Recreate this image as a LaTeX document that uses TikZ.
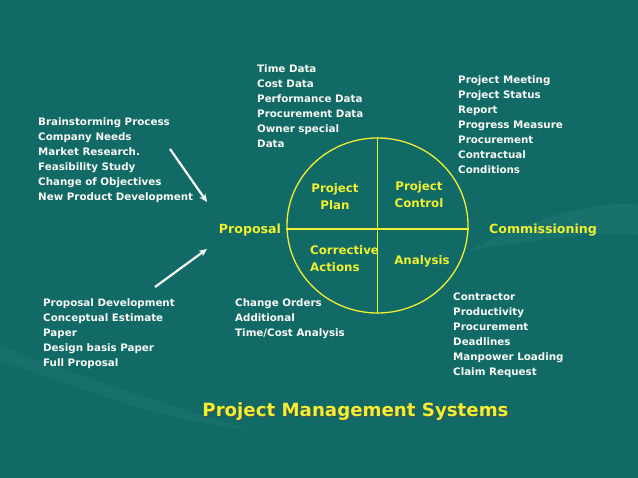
\documentclass[tikz,border=0pt]{standalone}
\usepackage{fontspec}
\setmainfont{DejaVu Sans}
\usetikzlibrary{arrows.meta,shapes.geometric}
\definecolor{bg}{RGB}{17,106,102}
\definecolor{bglight}{RGB}{40,128,124}
\definecolor{ylw}{RGB}{240,240,50}
\definecolor{wht}{RGB}{250,250,245}
\tikzset{
  list/.style={anchor=north west, inner sep=0pt, align=left, text=wht,
    font=\bfseries\fontsize{10.3}{15}\selectfont},
  qlabel/.style={inner sep=0pt, align=center, text=ylw,
    font=\bfseries\fontsize{11.8}{17}\selectfont},
  side/.style={inner sep=0pt, text=ylw, font=\bfseries\fontsize{12.6}{14}\selectfont},
  wharrow/.style={draw=wht, line width=2.2pt, -{Stealth[length=8pt,width=7pt]}},
  ring/.style={draw=ylw, line width=1.3pt}
}
\begin{document}
\begin{tikzpicture}[x=1pt,y=-1pt]
\fill[bg] (0,0) rectangle (638,478);
\useasboundingbox (0,0) rectangle (638,478);
% faint background swooshes
\fill[bglight, opacity=0.35] (470,250) .. controls (540,215) and (600,200) .. (638,205) -- (638,235) .. controls (600,230) and (540,240) .. (470,250) -- cycle;
\fill[bglight, opacity=0.3] (0,360) .. controls (60,380) and (150,420) .. (250,430) .. controls (150,400) and (60,370) .. (0,345) -- cycle;
% circle
\node[ring, ellipse, minimum width=181pt, minimum height=175pt, inner sep=0pt, draw] (circ) at (377.5,225.5) {};
\draw[ring] (circ.west |- 0,229) coordinate (hl) -- (circ.east |- 0,229) coordinate (hr);
\draw[ring] (circ.north) -- (circ.south);
% quadrant labels
\node[qlabel] (plan) at (335,197) {Project\\Plan};
\node[qlabel] (control) at (419,195) {Project\\Control};
\node[qlabel, anchor=west, align=left] (corr) at (310,259) {Corrective\\Actions};
\node[qlabel] (anal) at (422,261) {Analysis};
% side labels
\node[side] (prop) at (250,230) {Proposal};
\node[side] (comm) at (543,230) {Commissioning};
% lists
\node[list] (top) at (257,64) {Time Data\\Cost Data\\Performance Data\\Procurement Data\\Owner special\\Data};
\node[list] (left) at (38,117) {Brainstorming Process\\Company Needs\\Market Research.\\Feasibility Study\\Change of Objectives\\New Product Development};
\node[list] (rtop) at (458,75) {Project Meeting\\Project Status\\Report\\Progress Measure\\Procurement\\Contractual\\Conditions};
\node[list] (lbot) at (43,298) {Proposal Development\\Conceptual Estimate\\Paper\\Design basis Paper\\Full Proposal};
\node[list] (mbot) at (235,298) {Change Orders\\Additional\\Time/Cost Analysis};
\node[list] (rbot) at (453,293) {Contractor\\Productivity\\Procurement\\Deadlines\\Manpower Loading\\Claim Request};
% arrows
\coordinate (a1s) at (170,149);
\coordinate (a1e) at (207,202);
\coordinate (a2s) at (155,287);
\coordinate (a2e) at (207,249);
\draw[wharrow] (a1s) -- (a1e);
\draw[wharrow] (a2s) -- (a2e);
% title
\node[inner sep=0pt, text=black!70, font=\bfseries\fontsize{18.2}{20}\selectfont] at (356.7,413) {Project Management Systems};
\node[inner sep=0pt, text=ylw, font=\bfseries\fontsize{18.2}{20}\selectfont] (title) at (355.5,411.5) {Project Management Systems};
\end{tikzpicture}
\end{document}
